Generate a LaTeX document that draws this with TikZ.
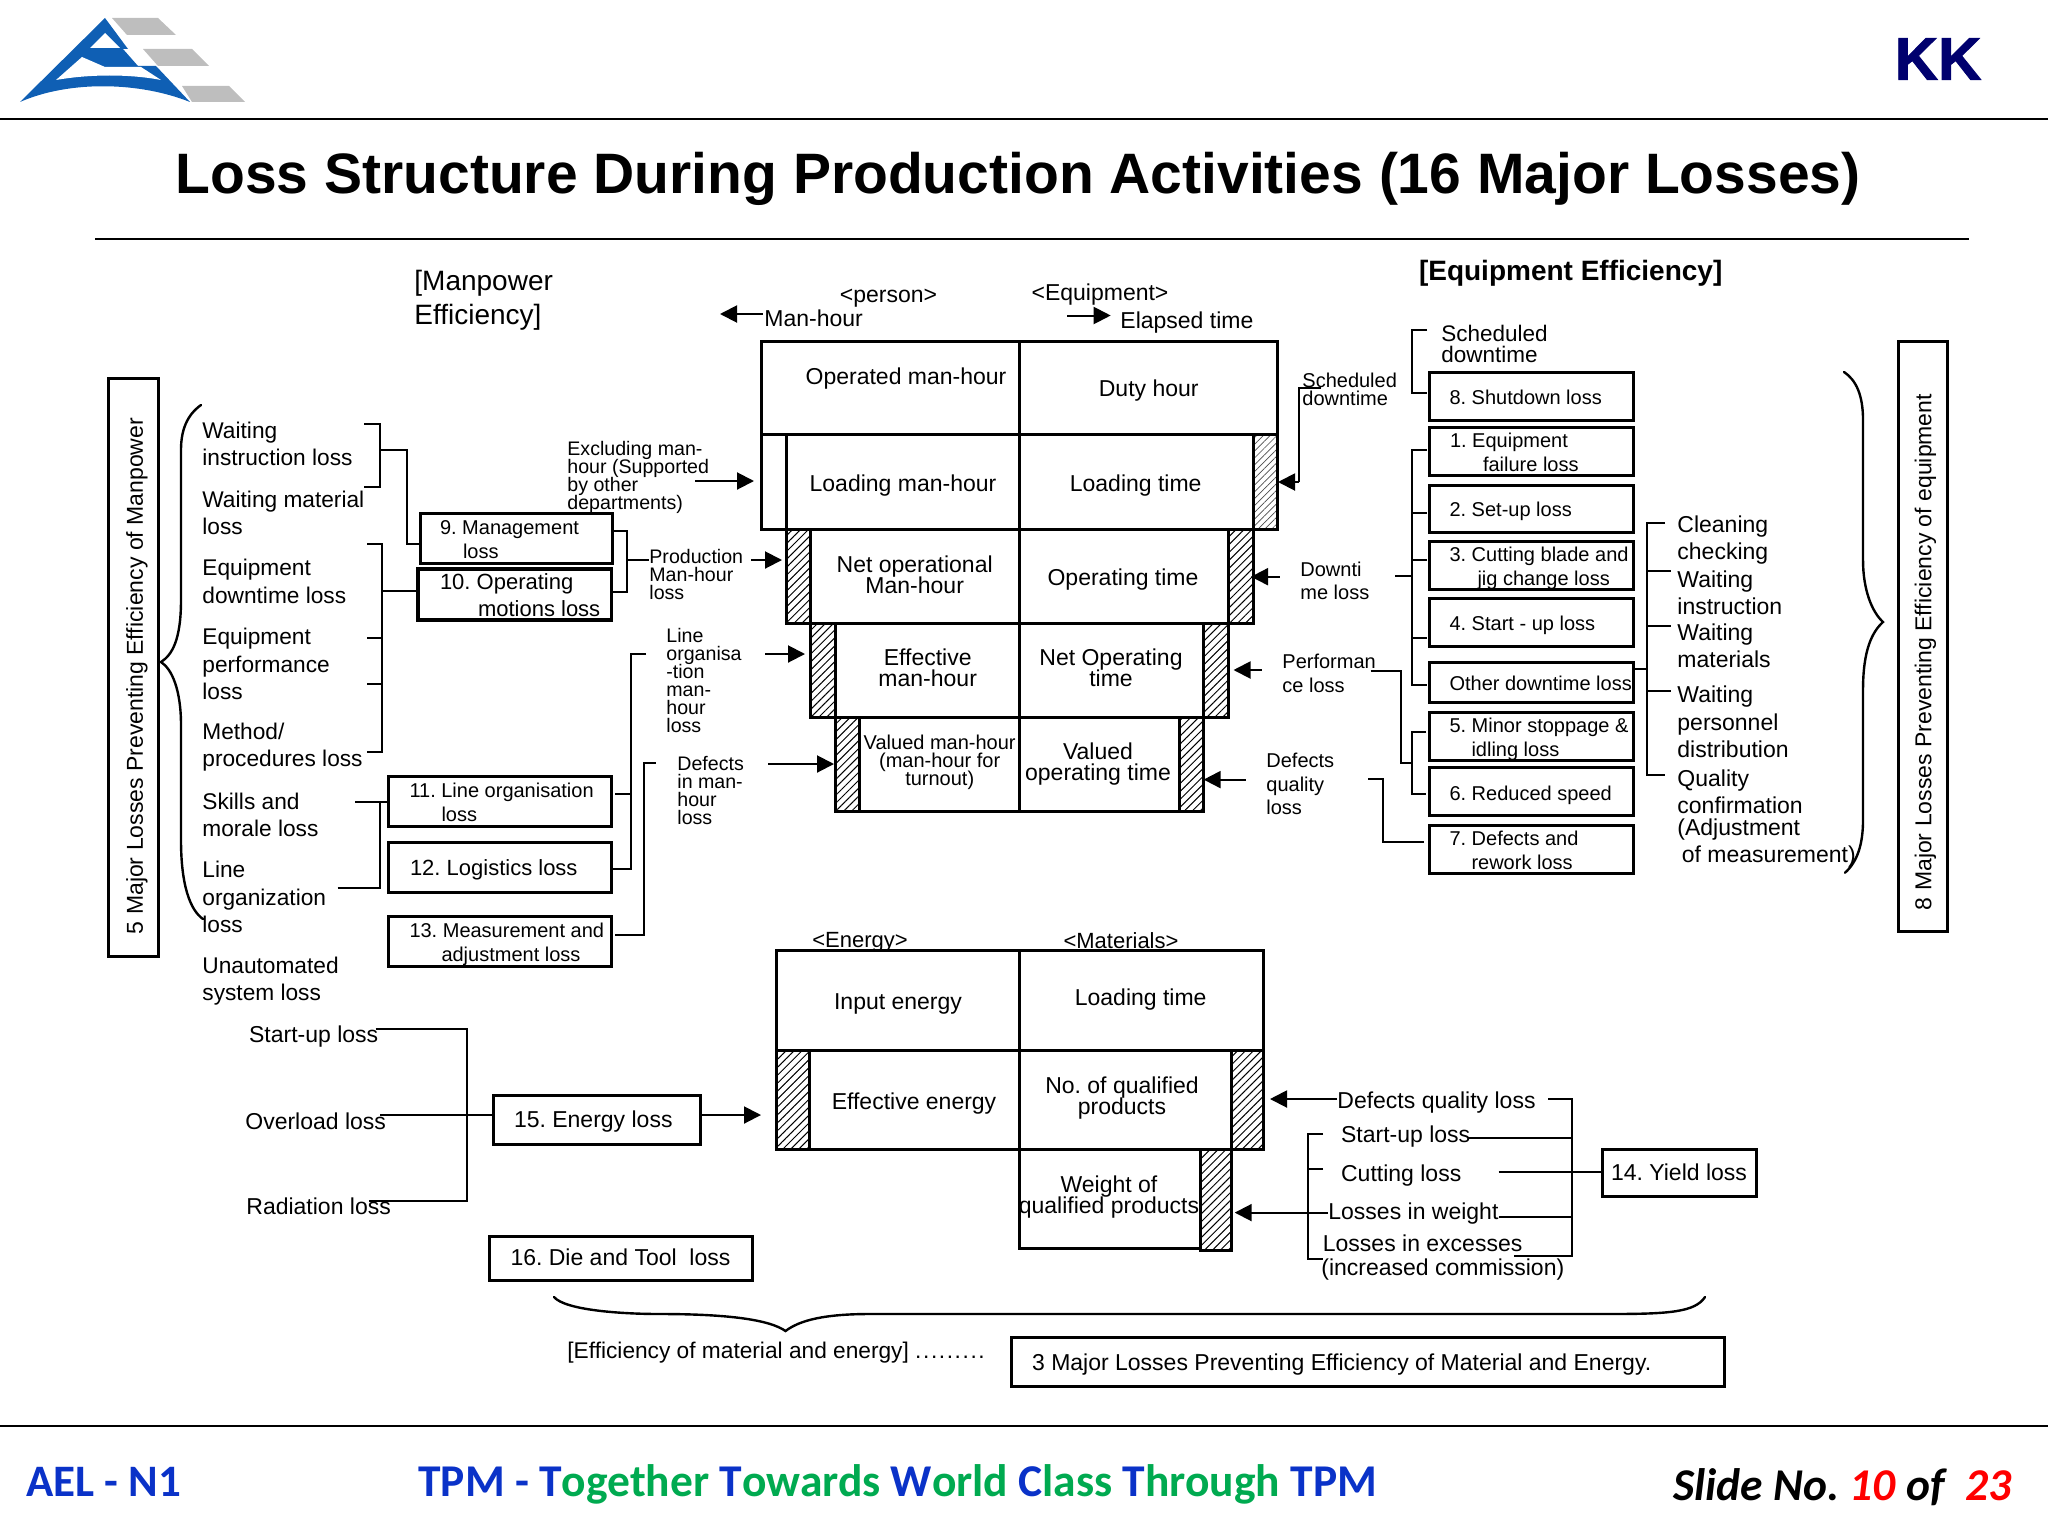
\documentclass[tikz,border=0pt]{standalone}
\usepackage{fontspec}
\setmainfont{Liberation Sans}
\newfontfamily\carl{Carlito}
\newfontfamily\kkfont[FakeBold=1.5]{Liberation Sans Bold}
\usetikzlibrary{arrows.meta,patterns.meta,calc}
\definecolor{logoblue}{RGB}{15,95,180}
\definecolor{logogray}{RGB}{190,190,190}
\definecolor{navyk}{RGB}{0,0,110}
\definecolor{tblue}{RGB}{10,50,200}
\definecolor{tgreen}{RGB}{0,170,80}
\frenchspacing
\setlength{\normallineskiplimit}{-100pt}
\setlength{\lineskiplimit}{-100pt}
\tikzset{
  fs/.style 2 args={font=\fontsize{#1}{#2}\selectfont},
  txt/.style={inner sep=0pt,anchor=west,align=left},
  ctr/.style={inner sep=0pt,anchor=center,align=center},
  bxs/.style={draw=black,line width=1.5pt,inner sep=0pt,outer sep=0pt,fill=white},
  thick box/.style={draw=black,line width=1.9pt,inner sep=0pt,outer sep=0pt,fill=white},
  cellb/.style={draw=black,line width=1.5pt,inner sep=0pt,outer sep=0pt},
  hatchb/.style={cellb,pattern={Lines[angle=45,distance=2.8pt,line width=0.5pt]}},
  hatchc/.style={cellb,pattern={Lines[angle=45,distance=2.4pt,line width=0.35pt]},pattern color=black!70},
  ln/.style={draw=black,line width=1pt},
  arr/.style={draw=black,line width=1pt,-{Triangle[length=8.5pt,width=8.5pt]}},
  brace/.style={draw=black,line width=1.2pt,line cap=round},
  f10/.style={fs={10}{12}},
  f98/.style={fs={9.8}{9}},
  f11/.style={fs={11}{13.5}},
  f115/.style={fs={11.5}{13.7}},
  f113/.style={fs={11.35}{13.7}}
}
\newlength\bw\newlength\bh\newlength\bo
\newcommand\bxn[8][bxs,f10]{%
  \pgfmathsetlength\bw{(#5-#3)*0.5pt}\pgfmathsetlength\bh{(#6-#4)*0.5pt}\pgfmathsetlength\bo{#7*0.5pt}%
  \node[#1,minimum width=\bw,minimum height=\bh] (#2) at ({(#3+#5)/2},{(#4+#6)/2})
  {\makebox[\bw][l]{\hspace*{\bo}\raisebox{-4.25pt}[0pt][0pt]{\setlength{\lineskiplimit}{0pt}\begin{tabular}[c]{@{}l@{}}#8\end{tabular}}}};}
\newcommand\cel[6][cellb]{%
  \pgfmathsetlength\bw{(#5-#3)*0.5pt}\pgfmathsetlength\bh{(#6-#4)*0.5pt}%
  \node[#1,minimum width=\bw,minimum height=\bh] (#2) at ({(#3+#5)/2},{(#4+#6)/2}) {};}
\newcommand\tx[5][f10]{\node[txt,#1] (#2) at (#3,#4) {#5};}
\newcommand\tc[5][f115]{\node[ctr,#1] (#2) at (#3,#4) {#5};}
\newcommand\dt{.\kern0.8pt}
\begin{document}
\begin{tikzpicture}[x=0.5pt,y=-0.5pt]
\useasboundingbox (0,0) rectangle (2048,1536);
% logo
\fill[logogray] (112,18) -- (158,18) -- (176,35) -- (127,35) -- cycle;
\fill[logogray] (143,49) -- (192,49) -- (209,66) -- (158,66) -- cycle;
\fill[logogray] (182,86) -- (229,86) -- (245,102) -- (192,102) -- cycle;
\fill[logoblue] (105,18) -- (20,102) .. controls (70,80) and (140,82) .. (190,102) -- (156,66) -- (138,66) -- (123,49) -- (128,49) -- cycle;
\fill[white] (105,33) -- (90,48) -- (120,48) -- cycle;
\fill[white] (82,57) -- (105,67) -- (141,67) -- (161,80) .. controls (130,74) and (90,74) .. (56,80) -- cycle;
\node[inner sep=0pt,anchor=center,font=\fontsize{30}{32}\kkfont\selectfont,text=navyk] (kk) at (1938,59) {KK};
% rules
\coordinate (r1a) at (0,119); \coordinate (r1b) at (2048,119);
\coordinate (r2a) at (95,239); \coordinate (r2b) at (1969,239);
\coordinate (r3a) at (0,1426); \coordinate (r3b) at (2048,1426);
\draw[line width=1.25pt] (r1a) -- (r1b);
\draw[line width=1.25pt] (r2a) -- (r2b);
\draw[line width=1.25pt] (r3a) -- (r3b);
\node[ctr,font=\fontsize{28.5}{30}\bfseries\selectfont] (title) at (1018,179) {Loss Structure During Production Activities (16 Major Losses)};
% headings
\tx[fs={14}{17}]{tman}{414}{300.5}{[Manpower\\Efficiency]}
\node[txt,font=\fontsize{14}{16}\bfseries\selectfont] (teq) at (1418.6,273.5) {[Equipment Efficiency]};
\tc{tperson}{888.5}{298}{<person>}
\tx[f115]{tmh}{764}{318}{Man-hour}
\tc{tequip}{1100}{294.5}{<Equipment>}
\tx[f115]{tel}{1120}{323}{Elapsed time}
\coordinate (a1s) at (762.5,314); \coordinate (a1e) at (720,314);
\coordinate (a2s) at (1067.4,315.5); \coordinate (a2e) at (1110.7,315.5);
\draw[arr] (a1s) -- (a1e);
\draw[arr] (a2s) -- (a2e);
% vertical boxes
\cel[bxs]{lbox}{108}{378}{158}{956}
\node[inner sep=0pt,rotate=90,f115] (ltext) at (137,676) {5 Major Losses Preventing Efficiency of Manpower};
\cel[bxs]{rbox}{1898}{341}{1947.5}{931}
\node[inner sep=0pt,rotate=90,f115] (rtext) at (1925.5,652) {8 Major Losses Preventing Efficiency of equipment};
% main table
\cel{c11}{761}{341}{1019}{434}
\cel{c12}{1019}{341}{1277}{434}
\cel{c20}{761}{434}{786}{529}
\cel{c21}{786}{434}{1019}{529}
\cel{c22}{1019}{434}{1253}{529}
\cel[hatchc]{h23}{1253}{434}{1277}{529}
\cel[hatchb]{h30}{786}{529}{810}{623}
\cel{c31}{810}{529}{1019}{623}
\cel{c32}{1019}{529}{1228}{623}
\cel[hatchb]{h33}{1228}{529}{1253}{623}
\cel[hatchb]{h40}{810}{623}{835}{717}
\cel{c41}{835}{623}{1019}{717}
\cel{c42}{1019}{623}{1203.5}{717}
\cel[hatchb]{h43}{1203.5}{623}{1228}{717}
\cel[hatchb]{h50}{835}{717}{859}{811}
\cel{c51}{859}{717}{1019}{811}
\cel{c52}{1019}{717}{1179}{811}
\cel[hatchb]{h53}{1179}{717}{1203.5}{811}
\tc{topm}{906}{379}{Operated man-hour}
\tc{tduty}{1148.7}{391}{Duty hour}
\tc{tlm}{903}{486}{Loading man-hour}
\tc{tlt}{1135.7}{486}{Loading time}
\tc[fs={11.5}{10.5}]{tnom}{914.7}{575}{Net operational\\Man-hour}
\tc{topt}{1123}{579.5}{Operating time}
\tc[fs={11.5}{10.5}]{tefm}{927.7}{668}{Effective\\man-hour}
\tc[fs={11.5}{10.5}]{tnot}{1111}{668}{Net Operating\\time}
\tc[fs={10}{9}]{tvmh}{939.7}{762}{Valued man-hour\\(man-hour for\\turnout)}
\tc[fs={11.5}{10.5}]{tvot}{1098}{764}{Valued\\operating time}
% left list
\tx[f113]{l1}{202}{444}{Waiting\\instruction loss}
\tx[f113]{l2}{202}{513}{Waiting material\\loss}
\tx[f113]{l3}{202}{581.5}{Equipment\\downtime loss}
\tx[f113]{l4}{202}{664}{Equipment\\performance\\loss}
\tx[f113]{l5}{202}{747}{Method/\\procedures loss}
\tx[f113]{l6}{202}{815}{Skills and\\morale loss}
\tx[f113]{l7}{202}{897}{Line\\organization\\loss}
\tx[f113]{l8}{202}{981}{Unautomated\\system loss}
\draw[brace] (201,405) .. controls (187,415) and (181,430) .. (181,450) -- (181,600) .. controls (181,640) and (172,655) .. (161,662) .. controls (172,669) and (181,690) .. (181,725) -- (181,840) .. controls (181,885) and (190,910) .. (203,919);
% manpower boxes
\bxn{b9}{420}{513}{612.6}{563}{20}{9. Management\\\hspace*{11.5pt}loss}
\bxn[thick box,f11]{b10}{418}{569}{611.5}{620}{22}{10. Operating\\\hspace*{19pt}motions loss}
\bxn{b11}{388.5}{776}{611.5}{826}{21}{11. Line organisation\\\hspace*{16pt}loss}
\bxn[bxs,f11]{b12}{388.5}{842}{611.5}{892}{21.5}{12. Logistics loss}
\bxn{b13}{388.5}{916}{611.5}{966}{21}{13. Measurement and\\\hspace*{16pt}adjustment loss}
% left connectors
\coordinate (k1a) at (364,424); \coordinate (k1b) at (364,487); \coordinate (k1j) at (379.5,450); \coordinate (k1m) at (406.5,544);
\draw[ln] (k1a) -| (k1j) |- (k1b);
\draw[ln] (k1j) -| (k1m) -- (b9.west |- k1m);
\coordinate (k2a) at (367,544); \coordinate (k2b) at (367,752); \coordinate (k2j) at (381.5,591); \coordinate (k2c) at (367,637.7); \coordinate (k2d) at (367,684);
\draw[ln] (k2a) -| (k2j) |- (k2b);
\draw[ln] (k2c) -- (k2c -| k2j);
\draw[ln] (k2d) -- (k2d -| k2j);
\draw[ln] (k2j) -- (b10.west |- k2j);
\coordinate (k3a) at (355,802); \coordinate (k3b) at (337.5,888); \coordinate (k3c) at (380,888);
\draw[ln] (k3a) -- (b11.west |- k3a);
\draw[ln] (k3b) -- (k3c) -- (k3c |- k3a);
\tx[f98]{texc}{567}{477.5}{Excluding man-\\hour (Supported\\by other\\departments)}
\tx[f98]{tprod}{649}{574}{Production\\Man-hour\\loss}
\tx[f98]{tline}{666}{680}{Line\\organisa\\-tion\\man-\\hour\\loss}
\tx[f98]{tdef}{677}{790}{Defects\\in man-\\hour\\loss}
\coordinate (k4a) at (612.6,530.6); \coordinate (k4b) at (611.5,592); \coordinate (k4j) at (627,560);
\draw[ln] (k4a) -| (k4j) |- (k4b);
\draw[ln] (k4j) -- (tprod.west |- k4j);
\coordinate (k5t) at (646,654); \coordinate (k5j) at (630.6,794); \coordinate (k5s) at (615,794); \coordinate (k5b) at (611.5,869);
\draw[ln] (k5t) -| (k5j) |- (k5b);
\draw[ln] (k5s) -- (k5j);
\coordinate (k6s) at (615,935); \coordinate (k6c) at (644,850); \coordinate (k6t) at (656,763);
\draw[ln] (k6s) -| (k6c) |- (k6t);
\coordinate (p1s) at (695,481); \coordinate (p1e) at (754,481);
\coordinate (p2s) at (751,560); \coordinate (p2e) at (782,560);
\coordinate (p3s) at (765,654); \coordinate (p3e) at (805,654);
\coordinate (p4s) at (768,764); \coordinate (p4e) at (834,764);
\draw[arr] (p1s) -- (p1e);
\draw[arr] (p2s) -- (p2e);
\draw[arr] (p3s) -- (p3e);
\draw[arr] (p4s) -- (p4e);
% right labels of main table
\tx[fs={10}{9}]{tsd}{1302}{389}{Scheduled\\downtime}
\tx[fs={10}{11.5}]{tdl}{1300}{581}{Downti\\me loss}
\tx[fs={10}{12}]{tpl}{1282}{673}{Performan\\ce loss}
\tx[fs={10}{11.7}]{tdq}{1266}{784}{Defects\\quality\\loss}
\coordinate (q1s) at (1321,388); \coordinate (q1c) at (1299,440); \coordinate (q1e) at (1278,482);
\draw[ln] (q1s) -| (q1c) -- (q1c |- q1e);
\draw[arr] (q1c |- q1e) -- (q1e);
\coordinate (q2s) at (1279.5,576.7); \coordinate (q2e) at (1251,576.7);
\coordinate (q3s) at (1261.6,670); \coordinate (q3e) at (1233.5,670);
\coordinate (q4s) at (1245.5,779.6); \coordinate (q4e) at (1203.6,779.6);
\draw[arr] (q2s) -- (q2e);
\draw[arr] (q3s) -- (q3e);
\draw[arr] (q4s) -- (q4e);
% equipment boxes
\tx[fs={11.25}{10.5}]{tsd2}{1441}{344}{Scheduled\\downtime}
\bxn{b8}{1429.5}{372}{1633}{420}{20}{8. Shutdown loss}
\bxn{b1}{1429.5}{427}{1633}{475.7}{20.5}{1. Equipment\\\hspace*{16.5pt}failure loss}
\bxn{b2}{1429.5}{485}{1633}{532}{20}{2. Set-up loss}
\bxn{b3}{1429.5}{541}{1633}{589}{20}{3. Cutting blade and\\\hspace*{14pt}jig change loss}
\bxn{b4}{1429.5}{598.3}{1633}{646.7}{20}{4. Start - up loss}
\bxn{bo}{1429.5}{662}{1633}{702}{20}{Other downtime loss}
\bxn{b5}{1429.5}{712}{1633}{760}{20}{5. Minor stoppage \&\\\hspace*{11pt}idling loss}
\bxn{b6}{1429.5}{767.7}{1633}{815.7}{20}{6. Reduced speed}
\bxn{b7}{1429.5}{825}{1633}{873}{20}{7. Defects and\\\hspace*{11pt}rework loss}
\coordinate (s1a) at (1427,330); \coordinate (s1b) at (1427,393); \coordinate (s1c) at (1411.6,360);
\draw[ln] (s1a) -| (s1c) |- (s1b);
\coordinate (s2j) at (1412,575.7); \coordinate (s2d) at (1395,575.7);
\coordinate (s2a) at (1427,450); \coordinate (s2b) at (1427,685);
\coordinate (s2c) at (1427,512.7); \coordinate (s2e) at (1427,560); \coordinate (s2f) at (1427,637.7);
\draw[ln] (s2a) -| (s2j) |- (s2b);
\draw[ln] (s2c) -- (s2c -| s2j);
\draw[ln] (s2e) -- (s2e -| s2j);
\draw[ln] (s2f) -- (s2f -| s2j);
\draw[ln] (s2d) -- (s2j);
\coordinate (s3a) at (1370.5,671); \coordinate (s3c) at (1401,720); \coordinate (s3b) at (1412,763);
\draw[ln] (s3a) -| (s3c) |- (s3b);
\coordinate (s4a) at (1426,731.7); \coordinate (s4b) at (1426,794); \coordinate (s4c) at (1412,763);
\draw[ln] (s4a) -| (s4c) |- (s4b);
\coordinate (s5a) at (1368,778.7); \coordinate (s5c) at (1382.6,810); \coordinate (s5b) at (1424,841.7);
\draw[ln] (s5a) -| (s5c) |- (s5b);
% right list
\coordinate (m0) at (1633,669); \coordinate (mj) at (1647,669);
\coordinate (m1) at (1665,523); \coordinate (m2) at (1670.5,571); \coordinate (m3) at (1670.5,626); \coordinate (m4) at (1670.5,690.7); \coordinate (m5) at (1665,775);
\draw[ln] (m0) -- (mj);
\draw[ln] (m1) -| (mj) |- (m5);
\draw[ln] (m2) -- (m2 -| mj);
\draw[ln] (m3) -- (m3 -| mj);
\draw[ln] (m4) -- (m4 -| mj);
\tx[f115]{w1}{1677}{540}{Cleaning\\checking}
\tx[f115]{w2}{1677}{592.5}{Waiting\\instruction}
\tx[f115]{w3}{1677}{646}{Waiting\\materials}
\tx[f115]{w4}{1677}{722}{Waiting\\personnel\\distribution}
\tx[f115]{w5}{1677}{792}{Quality\\confirmation}
\tx[f115]{w6}{1677}{829.5}{(Adjustment}
\tx[f115]{w7}{1681.5}{856.5}{of measurement)}
\draw[brace] (1844,372) .. controls (1856,380) and (1863,395) .. (1863,420) -- (1863,560) .. controls (1863,590) and (1872,612) .. (1883,622) .. controls (1872,632) and (1863,650) .. (1863,690) -- (1863,820) .. controls (1863,845) and (1857,862) .. (1845,872.7);
% energy table
\tc[fs={11}{12}]{tener}{860}{942}{<Energy>}
\tc[fs={11}{12}]{tmat}{1121}{941}{<Materials>}
\cel{d11}{776}{950}{1019}{1050}
\cel{d12}{1019}{950}{1263}{1050}
\cel[hatchb]{h60}{776}{1050}{809}{1149}
\cel{d21}{809}{1050}{1019}{1149}
\cel{d22}{1019}{1050}{1231}{1149}
\cel[hatchb]{h63}{1231}{1050}{1263}{1149}
\cel{d31}{1019}{1149}{1200}{1248}
\cel[hatchb]{h73}{1200}{1149}{1231}{1250}
\tc{tin}{898}{1004}{Input energy}
\tc{tlt2}{1140.7}{1000}{Loading time}
\tc{tee}{914}{1103.5}{Effective energy}
\tc[fs={11.5}{10.5}]{tnq}{1122}{1098.5}{No. of qualified\\products}
\tc[fs={11.5}{10.5}]{twq}{1109}{1197}{Weight of\\qualified products}
% energy left
\tx[f115]{e1t}{248.7}{1037}{Start-up loss}
\tx[f115]{e2t}{245}{1121}{Overload loss}
\tx[f115]{e3t}{246}{1206}{Radiation loss}
\bxn[bxs,f115]{b15}{493}{1095}{700.8}{1144}{21}{15. Energy loss}
\bxn[bxs,f115]{b16}{489}{1236}{752}{1280}{21.5}{16. Die and Tool\ \ loss}
\coordinate (e1) at (375.5,1029); \coordinate (e3) at (368.6,1201); \coordinate (ej) at (467.4,1115); \coordinate (e2) at (380,1115); \coordinate (ea) at (761,1115);
\draw[ln] (e1) -| (ej) |- (e3);
\draw[ln] (e2) -- (b15.west |- e2);
\draw[arr] (b15.east |- e2) -- (ea);
% energy right
\tx[f115]{y1t}{1337}{1102.5}{Defects quality loss}
\tx[f115]{y2t}{1340.7}{1137}{Start-up loss}
\tx[f115]{y3t}{1340.7}{1175.5}{Cutting loss}
\tx[f115]{y4t}{1328}{1214}{Losses in weight}
\tx[f115]{y5t}{1322.5}{1243}{Losses in excesses}
\tx[f115]{y6t}{1321}{1269.5}{(increased commission)}
\bxn[bxs,f115]{b14}{1602}{1149}{1756}{1196}{9}{14. Yield loss}
\coordinate (y0) at (1548,1099); \coordinate (yj) at (1572,1172); \coordinate (y3) at (1514,1256);
\coordinate (y1) at (1468,1138); \coordinate (y2) at (1498.6,1172); \coordinate (y4) at (1498.6,1216.7);
\draw[ln] (y0) -| (yj) |- (y3);
\draw[ln] (y1) -- (y1 -| yj);
\draw[ln] (y2) -- (b14.west |- y2);
\draw[ln] (y4) -- (y4 -| yj);
\coordinate (z1) at (1323,1134); \coordinate (z2) at (1323,1259); \coordinate (zj) at (1308,1169); \coordinate (z3) at (1323,1169);
\coordinate (z4) at (1328,1212.6); \coordinate (z5) at (1234.7,1212.6);
\coordinate (da) at (1337,1099); \coordinate (db) at (1270,1099);
\draw[ln] (z1) -| (zj) |- (z2);
\draw[ln] (z3) -- (zj);
\draw[arr] (z4) -- (z5);
\draw[arr] (da) -- (db);
% bottom brace
\draw[brace] (554,1297) .. controls (565,1310) and (620,1314) .. (660,1314) .. controls (730,1314) and (770,1320) .. (785.5,1331) .. controls (800,1320) and (825,1314) .. (870,1314) -- (1610,1314) .. controls (1670,1314) and (1695,1312) .. (1705,1297);
\tx[fs={11.35}{13}]{tem}{567}{1353}{[Efficiency of material and energy] \dt\dt\dt\dt\dt\dt\dt\dt\dt}
\bxn[bxs,f115]{b3m}{1011.6}{1337.7}{1724.6}{1386.7}{20.5}{3 Major Losses Preventing Efficiency of Material and Energy.}
% footer
\node[txt,font=\fontsize{22.5}{25}\carl\bfseries\selectfont,text=tblue] (fa) at (26,1482) {AEL - N1};
\node[txt,font=\fontsize{22.75}{25}\carl\bfseries\selectfont,text=tblue] (fb) at (418,1484.5) {TPM - T\textcolor{tgreen}{ogether} T\textcolor{tgreen}{owards} W\textcolor{tgreen}{orld} C\textcolor{tgreen}{lass} T\textcolor{tgreen}{hrough} TPM};
\node[txt,font=\fontsize{22.75}{25}\carl\bfseries\itshape\selectfont] (fc) at (1673,1487) {Slide No. \textcolor{red}{10} of\ \ \textcolor{red}{23}};
\end{tikzpicture}
\end{document}
